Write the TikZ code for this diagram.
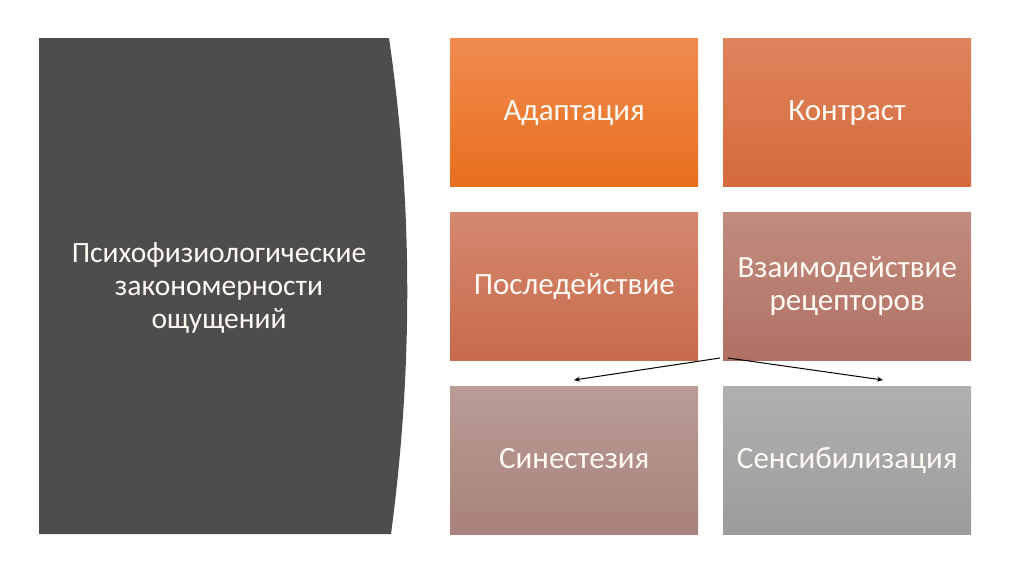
\documentclass[tikz,border=0pt]{standalone}
\usepackage{fontspec}
\setmainfont{Carlito}
\usetikzlibrary{arrows.meta}
\definecolor{panel}{HTML}{4D4D4D}
\definecolor{aTop}{HTML}{F08C50}\definecolor{aBot}{HTML}{E86E1C}
\definecolor{kTop}{HTML}{E0845C}\definecolor{kBot}{HTML}{D46A3C}
\definecolor{pTop}{HTML}{D4886F}\definecolor{pBot}{HTML}{C86A4C}
\definecolor{vTop}{HTML}{C28C80}\definecolor{vBot}{HTML}{B07064}
\definecolor{sTop}{HTML}{BA9C96}\definecolor{sBot}{HTML}{A8827C}
\definecolor{gTop}{HTML}{B0B0B0}\definecolor{gBot}{HTML}{9C9C9C}
\definecolor{txt}{HTML}{FFFAF4}
\tikzset{
  tile/.style={minimum width=248pt, minimum height=148pt, inner sep=0pt, text=txt, align=center, anchor=north west,
    font=\fontsize{31}{33}\selectfont, text height=20pt, text depth=4pt},
  link/.style={draw=black, line width=1pt, -{Stealth[length=6pt,width=5pt]}},
}
\begin{document}
\begin{tikzpicture}[x=1pt,y=-1pt]
\useasboundingbox[fill=white] (0,0) rectangle (1024,574);
% dark panel
\fill[panel] (39,38) -- (389,38) .. controls (413,203) and (413,369) .. (391,534) -- (39,534) -- cycle;
\node[text=txt, align=center, font=\fontsize{29.5}{33}\selectfont, inner sep=0pt, text height=86pt, text depth=4pt] (main) at (219,287) {Психофизиологические\\закономерности\\ощущений};
% tiles
\node[tile, top color=aTop, bottom color=aBot] (b1) at (450,38) {Адаптация};
\node[tile, top color=kTop, bottom color=kBot] (b2) at (723,38) {Контраст};
\node[tile, top color=pTop, bottom color=pBot] (b3) at (450,212) {Последействие};
\node[tile, top color=vTop, bottom color=vBot, text height=52pt] (b4) at (723,212) {Взаимодействие\\рецепторов};
\node[tile, top color=sTop, bottom color=sBot] (b5) at (450,386) {Синестезия};
\node[tile, top color=gTop, bottom color=gBot] (b6) at (723,386) {Сенсибилизация};
% arrows
\coordinate (sL) at (720,358);
\coordinate (sR) at (728,358);
\coordinate (eL) at (574,380);
\coordinate (eR) at (883,380);
\draw[link] (sL) -- (eL);
\draw[link] (sR) -- (eR);
\end{tikzpicture}
\end{document}
